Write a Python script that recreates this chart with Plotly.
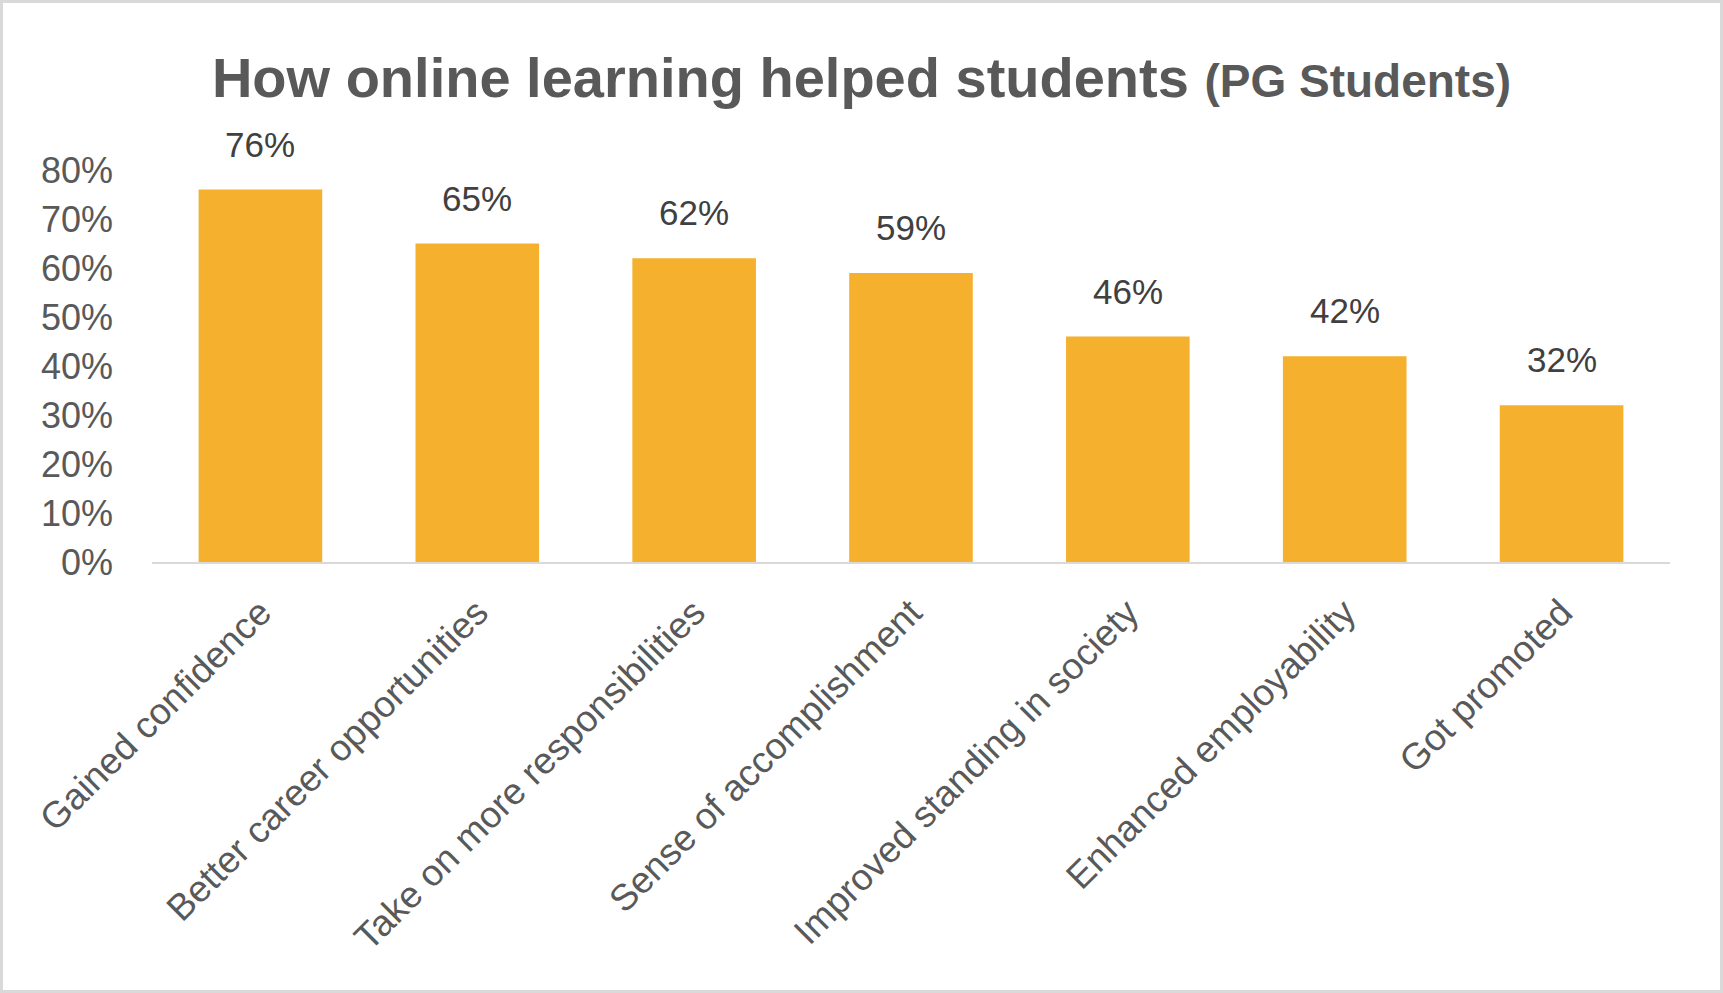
"""How online learning helped PG students - bar chart."""
import plotly.graph_objects as go

# data
categories = [
    "Gained confidence",
    "Better career opportunities",
    "Take on more responsibilities",
    "Sense of accomplishment",
    "Improved standing in society",
    "Enhanced employability",
    "Got promoted",
]
shares = [0.76, 0.65, 0.62, 0.59, 0.46, 0.42, 0.32]
y_ticks = [0, 0.1, 0.2, 0.3, 0.4, 0.5, 0.6, 0.7, 0.8]

W, H = 1723, 993
M_L, M_R, M_T, M_B = 152, 53, 170, 431
FONT = "Liberation Sans, Arial, sans-serif"
BAR = "#F5B02E"
GREY_TXT = "#595959"
LINE = "#D9D9D9"

fig = go.Figure()

fig.add_trace(
    go.Bar(
        x=categories,
        y=shares,
        marker=dict(color=BAR, line=dict(width=0)),
        showlegend=False,
        hoverinfo="x+y",
    )
)

# data labels above bars
for cat, v in zip(categories, shares):
    fig.add_annotation(
        x=cat, y=v, text=f"{round(v * 100)}%",
        showarrow=False, yanchor="bottom", yshift=24,
        font=dict(family=FONT, size=35, color="#404040"),
    )

# chart border (outer frame), in paper coords derived from the margins
pw = W - M_L - M_R
ph = H - M_T - M_B
fig.add_shape(
    type="rect", xref="paper", yref="paper",
    x0=(1.5 - M_L) / pw, x1=(W - 1.5 - M_L) / pw,
    y0=-(M_B - 1.5) / ph, y1=1 + (M_T - 1.5) / ph,
    line=dict(color=LINE, width=3), fillcolor="rgba(0,0,0,0)", layer="below",
)

fig.update_layout(
    width=W, height=H,
    margin=dict(l=M_L, r=M_R, t=M_T, b=M_B, autoexpand=False),
    paper_bgcolor="white", plot_bgcolor="white",
    bargap=0.43,
    title=dict(
        text="<b>How online learning helped students</b> "
             "<span style='font-size:46px'><b>(PG Students)</b></span>",
        x=0.5, xref="container", xanchor="center",
        y=1 - 77 / H, yref="container", yanchor="middle",
        font=dict(family=FONT, size=56, color=GREY_TXT),
    ),
    font=dict(family=FONT, color=GREY_TXT),
)

fig.update_xaxes(
    showline=True, linecolor=LINE, linewidth=2,
    showgrid=False, ticks="", tickangle=-45,
    tickfont=dict(family=FONT, size=37, color=GREY_TXT),
    ticklabelstandoff=12,
)
fig.update_yaxes(
    range=[0, 0.8], tickvals=y_ticks, tickformat=".0%",
    showgrid=False, zeroline=False, showline=False, ticks="",
    tickfont=dict(family=FONT, size=36, color=GREY_TXT),
    ticklabelstandoff=38,
)

fig.write_html(
    "out.html",
    config={"displayModeBar": False},
    post_script="document.body.style.margin='0';",
)
